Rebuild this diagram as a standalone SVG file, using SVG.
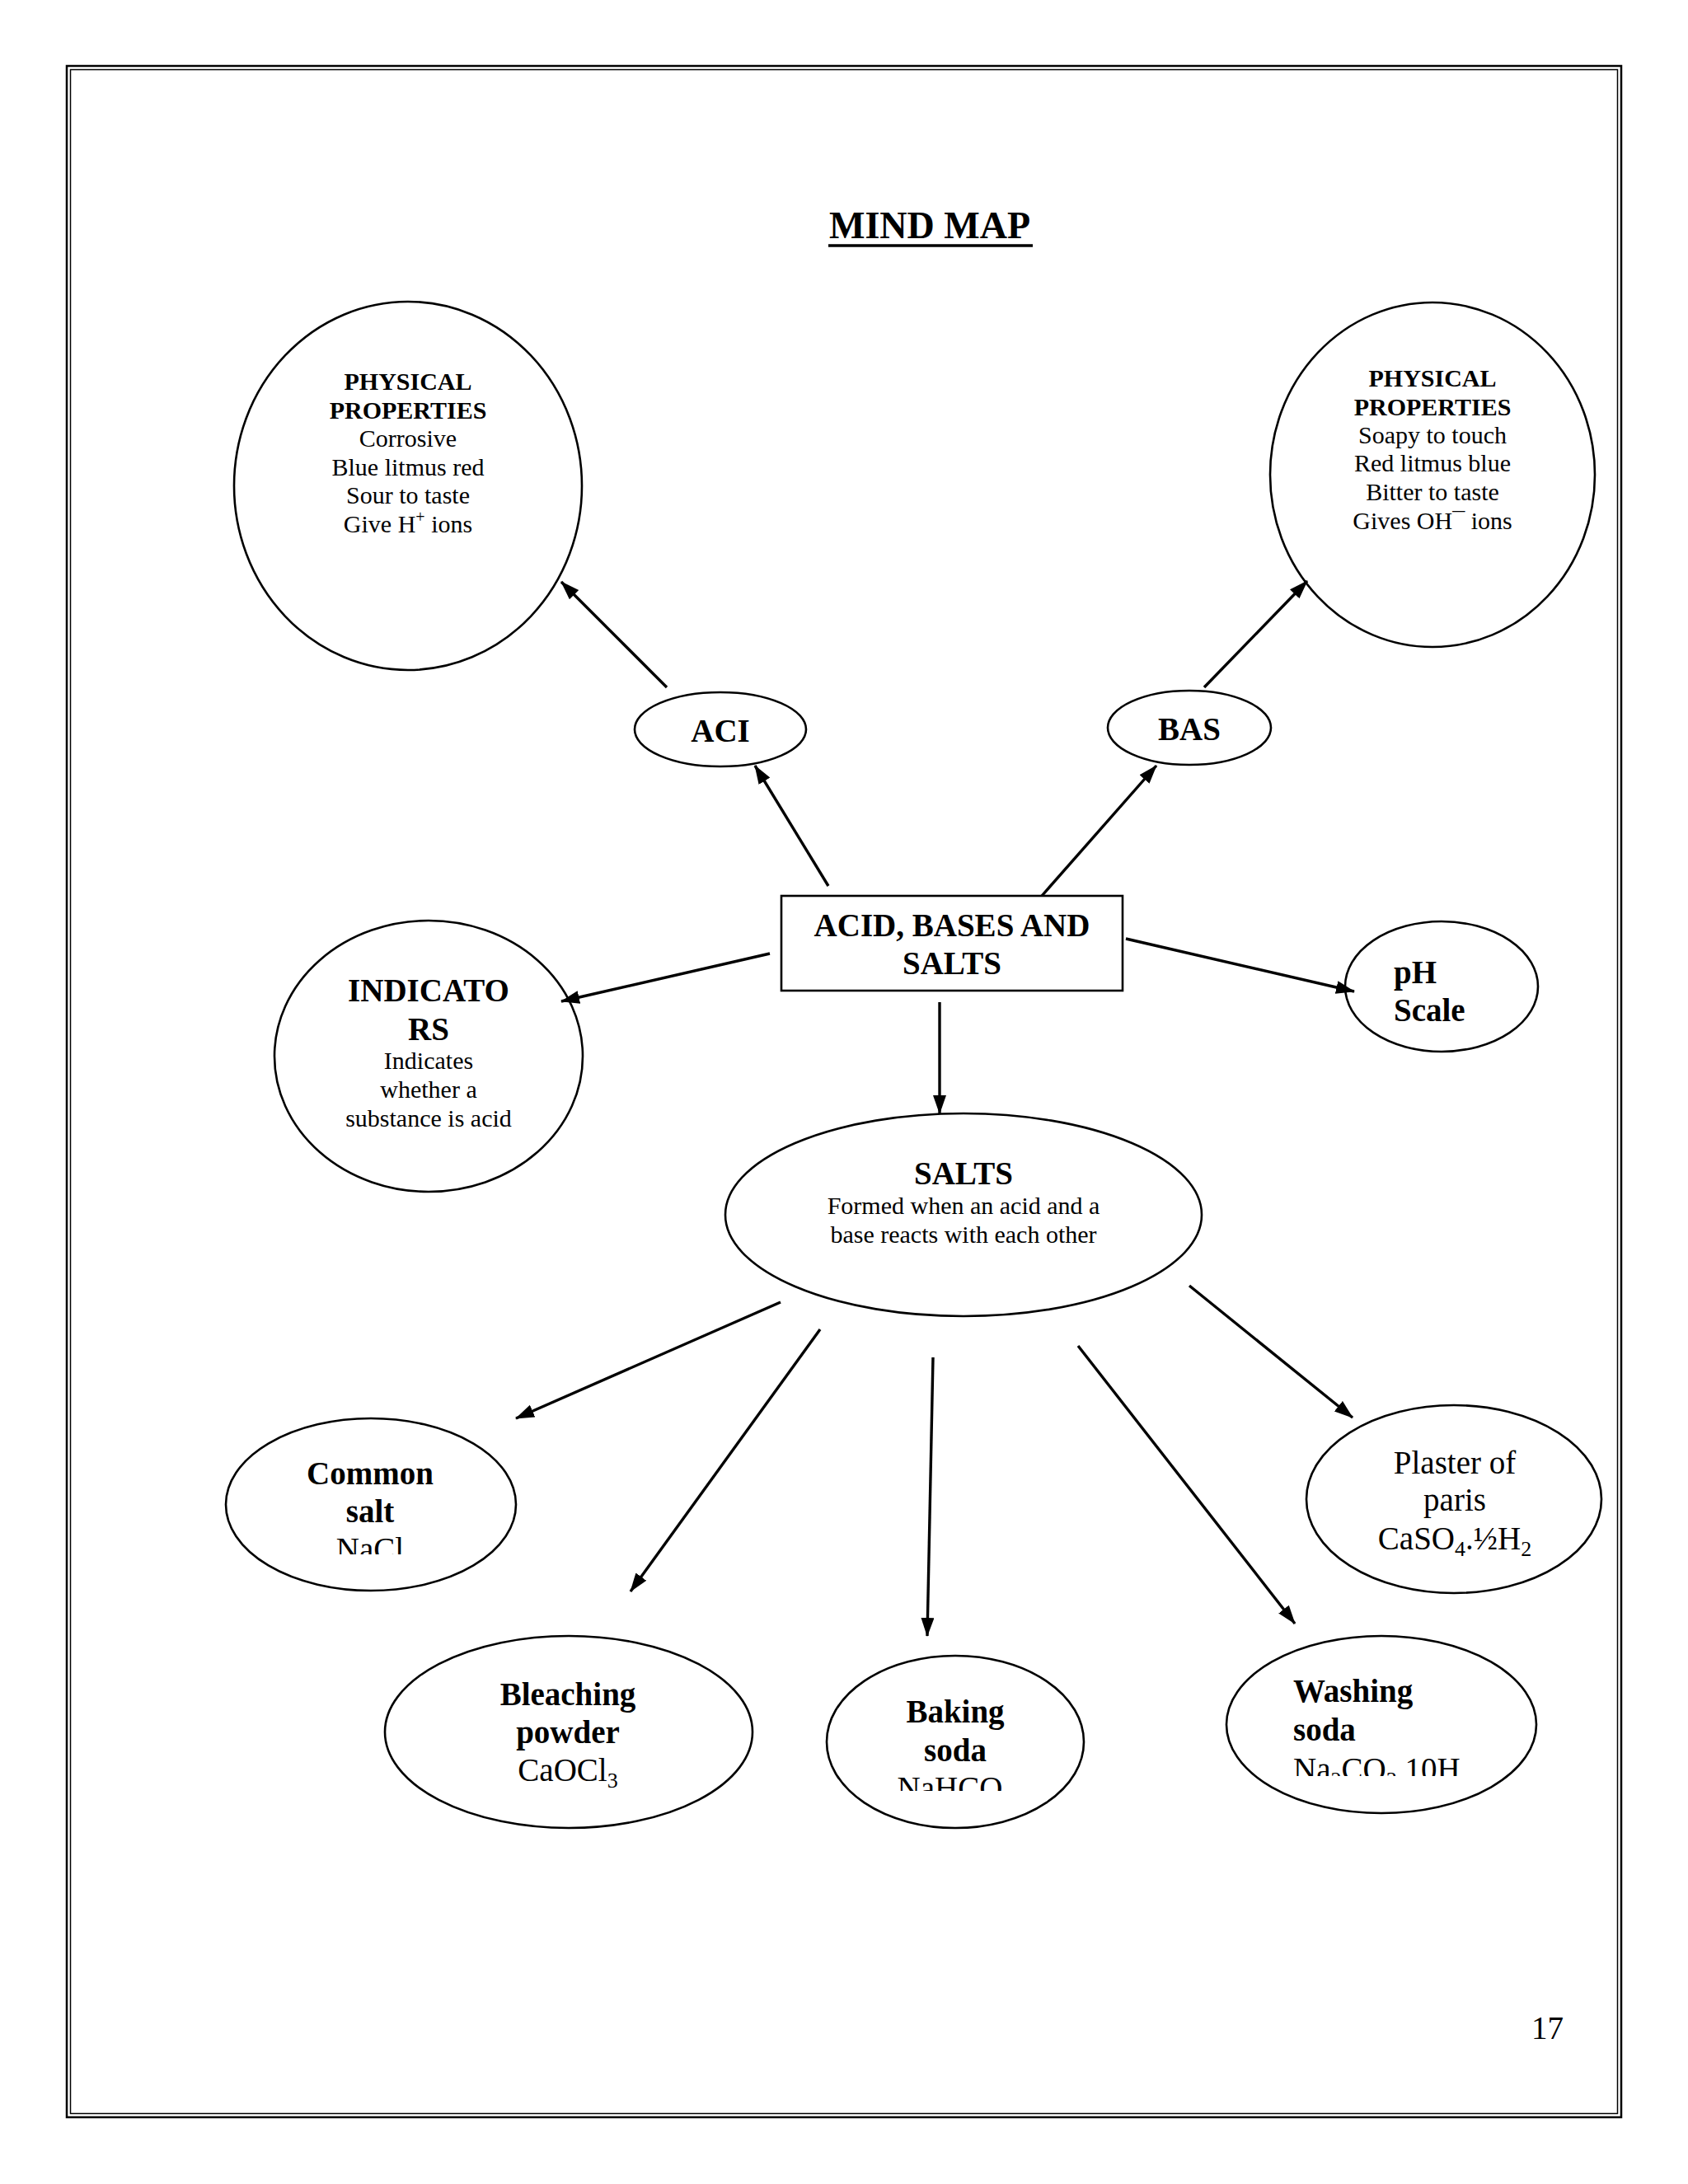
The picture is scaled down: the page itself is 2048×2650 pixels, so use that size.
<svg xmlns="http://www.w3.org/2000/svg" width="2048" height="2650" viewBox="0 0 2048 2650">
<style>
text{font-family:"Liberation Serif","Times New Roman",serif;fill:#000}
.b{font-weight:bold}
.s{font-size:30px}
.l{font-size:39px}
.c{text-anchor:middle}
.node{fill:none;stroke:#000;stroke-width:2.6}
.edge{stroke:#000;stroke-width:3.4;fill:none;marker-end:url(#ah)}
</style>
<defs>
<marker id="ah" markerUnits="userSpaceOnUse" markerWidth="24" markerHeight="18" refX="22" refY="8" orient="auto">
<path d="M0,0 L23,8 L0,16 z" fill="#000"/>
</marker>
<clipPath id="clipNaCl"><rect x="0" y="0" width="2048" height="1886"/></clipPath>
<clipPath id="clipNaHCO"><rect x="0" y="0" width="2048" height="2173"/></clipPath>
<clipPath id="clipNa2"><rect x="0" y="0" width="2048" height="2155"/></clipPath>
</defs>
<rect width="2048" height="2650" fill="#fff"/>
<g id="border">
<rect x="81" y="80" width="1886" height="2489" fill="none" stroke="#000" stroke-width="2.5"/>
<rect x="85.5" y="84.5" width="1877" height="2480" fill="none" stroke="#000" stroke-width="1.5"/>
</g>
<g id="title">
<text x="1128" y="289" class="b c" font-size="46">MIND MAP</text>
<line x1="1005" y1="298" x2="1253" y2="298" stroke="#000" stroke-width="3.5"/>
</g>
<g id="connectors">
<line class="edge" x1="1005" y1="1075" x2="916" y2="929"/>
<line class="edge" x1="809" y1="834" x2="681" y2="706"/>
<line class="edge" x1="1264" y1="1087" x2="1403" y2="929"/>
<line class="edge" x1="1461" y1="834" x2="1586" y2="705"/>
<line class="edge" x1="934" y1="1157" x2="681" y2="1215"/>
<line class="edge" x1="1366" y1="1139" x2="1643" y2="1203"/>
<line class="edge" x1="1140" y1="1216" x2="1140" y2="1351"/>
<line class="edge" x1="947" y1="1580" x2="626" y2="1721"/>
<line class="edge" x1="995" y1="1613" x2="765" y2="1931"/>
<line class="edge" x1="1132" y1="1647" x2="1125" y2="1985"/>
<line class="edge" x1="1308" y1="1633" x2="1571" y2="1970"/>
<line class="edge" x1="1443" y1="1560" x2="1641" y2="1720"/>
</g>
<g id="acid-properties">
<ellipse class="node" cx="495" cy="589.5" rx="211" ry="223.5"/>
<text x="495" y="473" class="b s c">PHYSICAL</text>
<text x="495" y="508" class="b s c">PROPERTIES</text>
<text x="495" y="542" class="s c">Corrosive</text>
<text x="495" y="577" class="s c">Blue litmus red</text>
<text x="495" y="611" class="s c">Sour to taste</text>
<text x="495" y="646" class="s c">Give H<tspan dy="-12" font-size="20">+</tspan><tspan dy="12"> ions</tspan></text>
</g>
<g id="base-properties">
<ellipse class="node" cx="1738" cy="576" rx="197" ry="209"/>
<text x="1738" y="469" class="b s c">PHYSICAL</text>
<text x="1738" y="504" class="b s c">PROPERTIES</text>
<text x="1738" y="538" class="s c">Soapy to touch</text>
<text x="1738" y="572" class="s c">Red litmus blue</text>
<text x="1738" y="607" class="s c">Bitter to taste</text>
<text x="1738" y="642" class="s c">Gives OH¯ ions</text>
</g>
<g id="aci">
<ellipse class="node" cx="874" cy="885" rx="104" ry="45"/>
<text x="874" y="900" class="b l c">ACI</text>
</g>
<g id="bas">
<ellipse class="node" cx="1443" cy="883" rx="99" ry="45"/>
<text x="1443" y="898" class="b l c">BAS</text>
</g>
<g id="center">
<rect x="948" y="1087" width="414" height="115" fill="none" stroke="#000" stroke-width="2.6"/>
<text x="1155" y="1136" class="b l c">ACID, BASES AND</text>
<text x="1155" y="1182" class="b l c">SALTS</text>
</g>
<g id="indicators">
<ellipse class="node" cx="520" cy="1281.5" rx="187" ry="164.5"/>
<text x="520" y="1215" class="b l c">INDICATO</text>
<text x="520" y="1262" class="b l c">RS</text>
<text x="520" y="1297" class="s c">Indicates</text>
<text x="520" y="1332" class="s c">whether a</text>
<text x="520" y="1367" class="s c">substance is acid</text>
</g>
<g id="ph">
<ellipse class="node" cx="1749" cy="1197" rx="117" ry="79"/>
<text x="1691" y="1193" class="b l">pH</text>
<text x="1691" y="1239" class="b l">Scale</text>
</g>
<g id="salts">
<ellipse class="node" cx="1169" cy="1474" rx="289" ry="123"/>
<text x="1169" y="1437" class="b l c">SALTS</text>
<text x="1169" y="1473" class="s c">Formed when an acid and a</text>
<text x="1169" y="1508" class="s c">base reacts with each other</text>
</g>
<g id="common-salt">
<ellipse class="node" cx="450" cy="1825.5" rx="176" ry="104.5"/>
<text x="449" y="1801" class="b l c">Common</text>
<text x="449" y="1847" class="b l c">salt</text>
<text x="449" y="1893" class="l c" clip-path="url(#clipNaCl)">NaCl</text>
</g>
<g id="bleaching-powder">
<ellipse class="node" cx="690" cy="2101.5" rx="223" ry="116.5"/>
<text x="689" y="2069" class="b l c">Bleaching</text>
<text x="689" y="2115" class="b l c">powder</text>
<text x="689" y="2161" class="l c">CaOCl<tspan dy="8" font-size="26">3</tspan></text>
</g>
<g id="baking-soda">
<ellipse class="node" cx="1159" cy="2113.5" rx="156" ry="104.5"/>
<text x="1159" y="2090" class="b l c">Baking</text>
<text x="1159" y="2137" class="b l c">soda</text>
<text x="1159" y="2183" class="l c" clip-path="url(#clipNaHCO)">NaHCO<tspan dy="8" font-size="26">3</tspan></text>
</g>
<g id="washing-soda">
<ellipse class="node" cx="1676" cy="2092.5" rx="188" ry="107.5"/>
<text x="1569" y="2065" class="b l">Washing</text>
<text x="1569" y="2112" class="b l">soda</text>
<text x="1569" y="2160" class="l" clip-path="url(#clipNa2)">Na<tspan dy="8" font-size="26">2</tspan><tspan dy="-8">CO</tspan><tspan dy="8" font-size="26">3</tspan><tspan dy="-8">.10H</tspan></text>
</g>
<g id="plaster-of-paris">
<ellipse class="node" cx="1764" cy="1819" rx="179" ry="114"/>
<text x="1765" y="1788" class="l c">Plaster of</text>
<text x="1765" y="1833" class="l c">paris</text>
<text x="1765" y="1880" class="l c">CaSO<tspan dy="8" font-size="26">4</tspan><tspan dy="-8">.½H</tspan><tspan dy="8" font-size="26">2</tspan></text>
</g>
<g id="page-number">
<text x="1897" y="2474" class="l" text-anchor="end">17</text>
</g>
</svg>
